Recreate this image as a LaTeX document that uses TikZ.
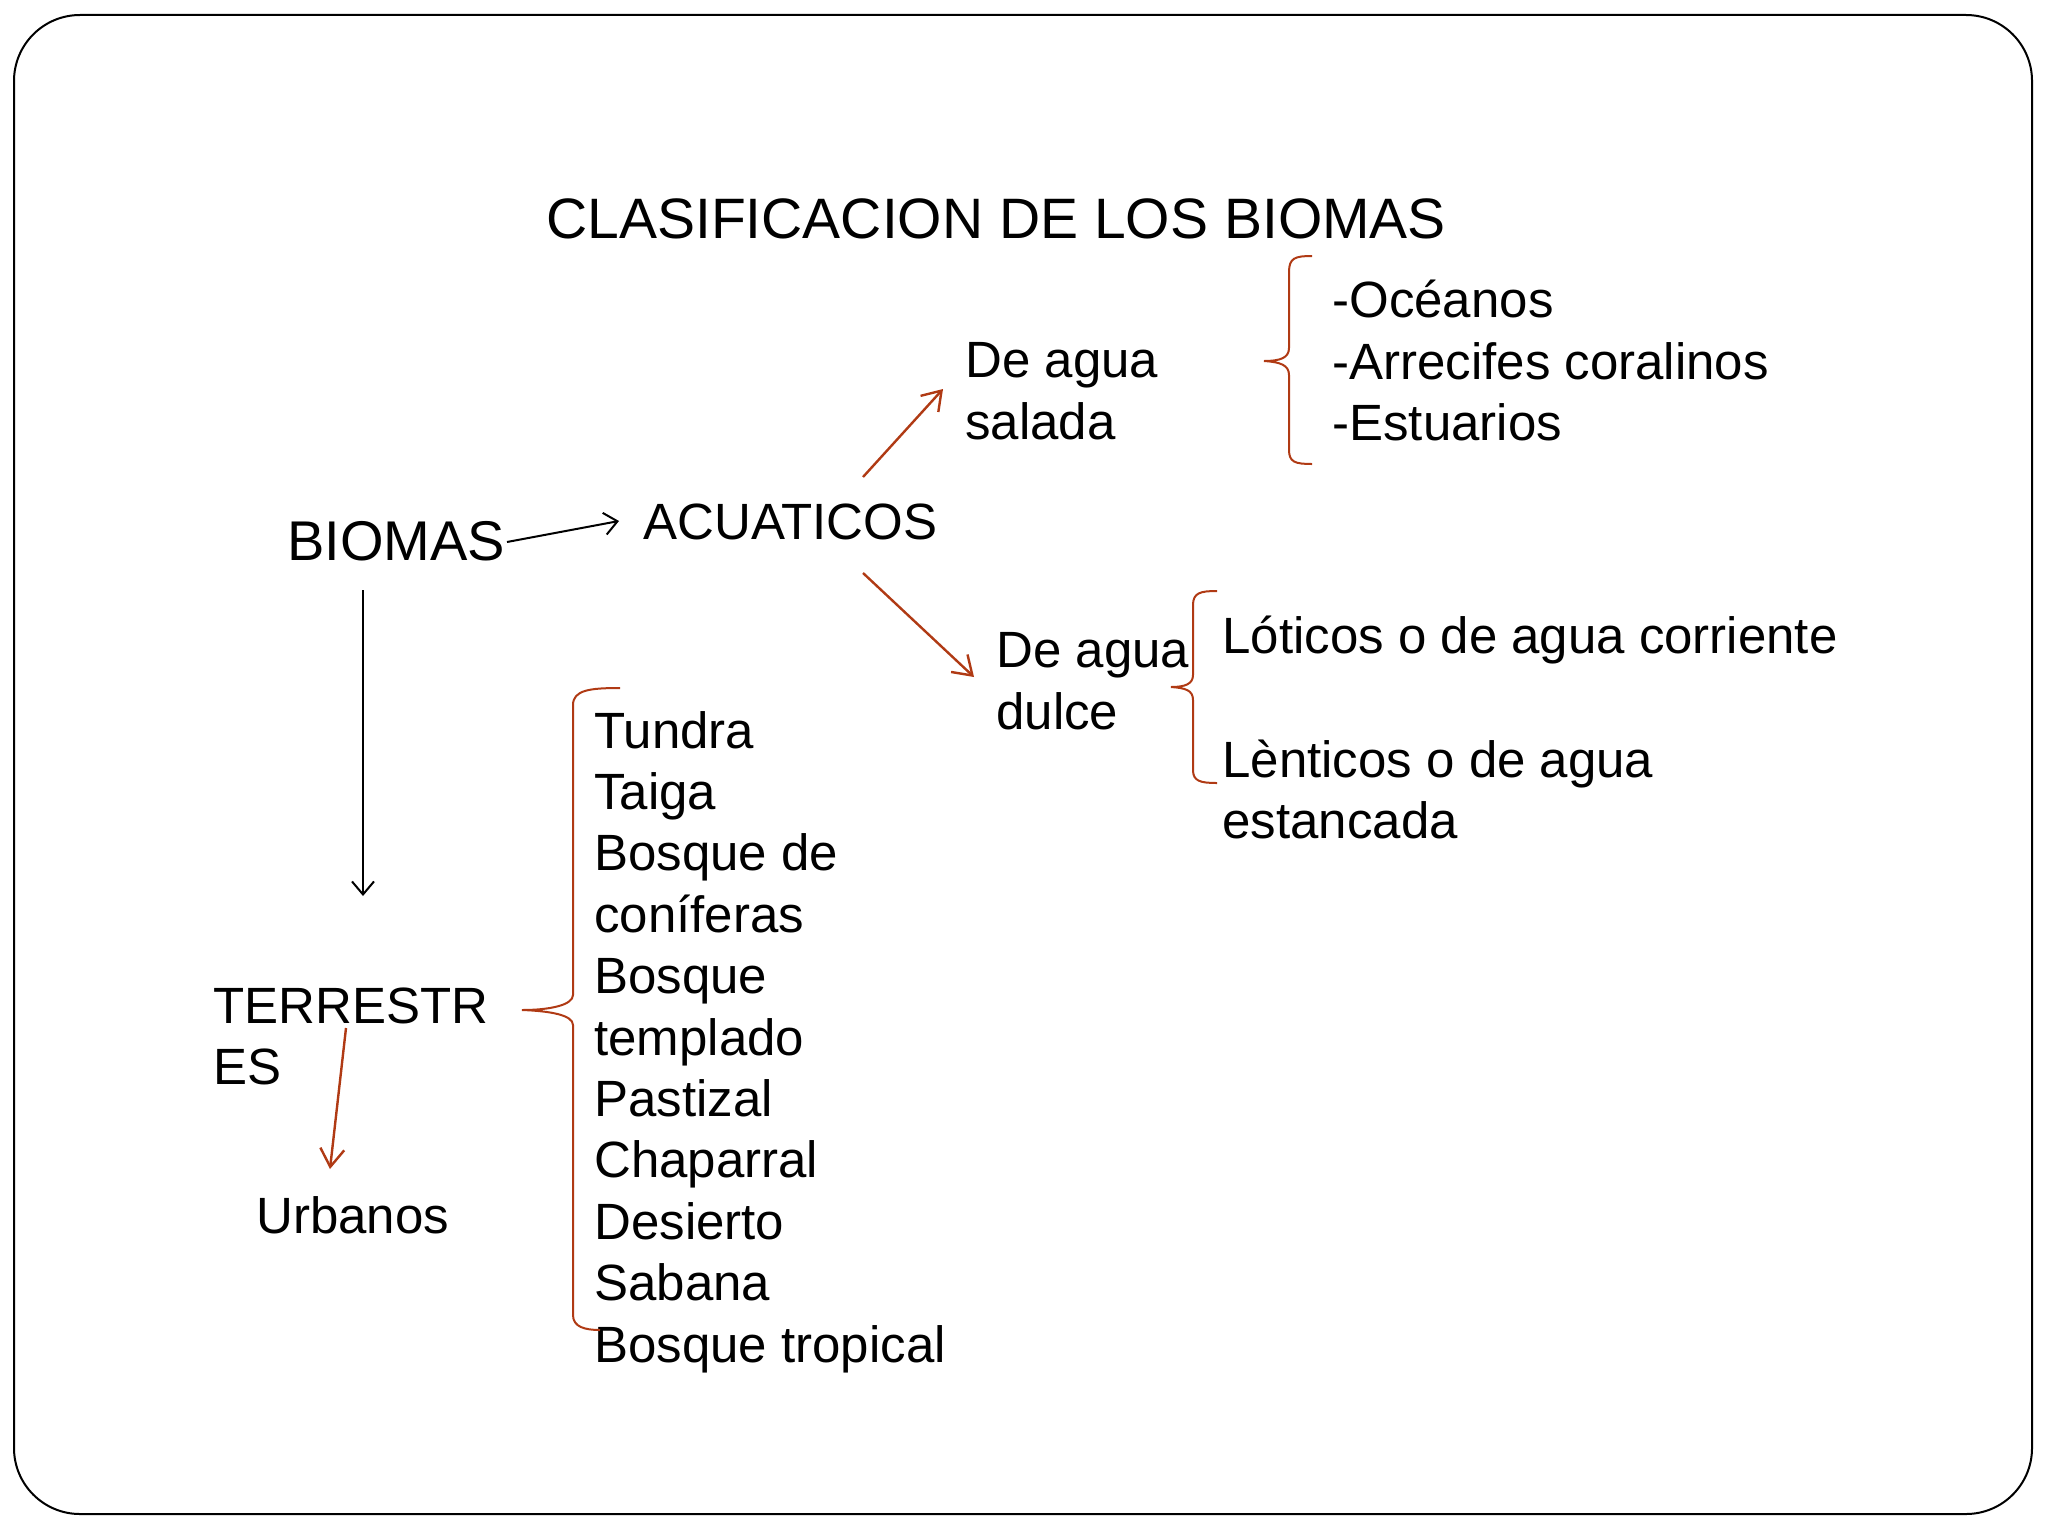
\documentclass[tikz,border=0pt]{standalone}
\usepackage{fontspec}
\setmainfont{Liberation Sans}
\usetikzlibrary{arrows.meta,calc}
\definecolor{rust}{RGB}{176,58,20}
\begin{document}
\begin{tikzpicture}[x=0.5pt,y=-0.5pt,
  txt/.style={anchor=base west, inner sep=0pt, font=\fontsize{25.5}{30.7}\selectfont},
  big/.style={anchor=base west, inner sep=0pt, font=\fontsize{28}{33}\selectfont},
  ttl/.style={anchor=base west, inner sep=0pt, font=\fontsize{28.5}{34}\selectfont},
  blkarrow/.style={line width=1pt, -{Straight Barb[length=6.5pt,width=11pt]}},
  rarrow/.style={draw=rust, line width=1.2pt, -{Straight Barb[length=9pt,width=12pt]}},
  bracepath/.style={draw=rust, line width=1pt}
]
\useasboundingbox (0,0) rectangle (2048,1536);
\draw[line width=1pt, rounded corners=33pt] (14,15) rectangle (2032,1514);

\node[ttl] (title) at (546,238) {CLASIFICACION DE LOS BIOMAS};
\node[big] (biomas) at (287,560) {BIOMAS};
\node[txt] (acu) at (643,539) {ACUATICOS};
\node[txt] (sal1) at (965,377) {De agua};
\node[txt] (sal2) at (965,439) {salada};
\node[txt] (oc1) at (1332,317) {-Océanos};
\node[txt] (oc2) at (1332,379) {-Arrecifes coralinos};
\node[txt] (oc3) at (1332,440) {-Estuarios};
\node[txt] (dul1) at (996,667) {De agua};
\node[txt] (dul2) at (996,729) {dulce};
\node[txt] (lot) at (1222,653) {Lóticos o de agua corriente};
\node[txt] (len1) at (1222,777) {Lènticos o de agua};
\node[txt] (len2) at (1222,838) {estancada};
\node[txt] (terr1) at (213,1023) {TERRESTR};
\node[txt] (terr2) at (213,1084) {ES};
\node[txt] (urb) at (256,1233) {Urbanos};
\foreach \t [count=\i from 0] in {Tundra,Taiga,Bosque de,coníferas,Bosque,templado,Pastizal,Chaparral,Desierto,Sabana,Bosque tropical}
  \node[txt] (l\i) at (594,{748+61.4*\i}) {\t};

% connectors
\draw[blkarrow] ($(biomas.base west)+(220,-18)$) -- ($(acu.base west)+(-24,-18)$);
\draw[blkarrow] ($(biomas.base west)+(76,30)$) -- ($(terr1.base west)+(150,-127)$);
\draw[rarrow] ($(acu.base west)+(220,-62)$) -- ($(sal1.base west)+(-22,12)$);
\draw[rarrow] ($(acu.base west)+(220,34)$) -- ($(dul1.base west)+(-22,10)$);
\draw[rarrow] ($(terr1.base west)+(133,5)$) -- ($(urb.base west)+(74,-64)$);

% braces
\draw[bracepath] (1312,256) .. controls (1295,256) and (1289,258) .. (1289,272) -- (1289,348)
  .. controls (1289,358) and (1280,361) .. (1264,361)
  .. controls (1280,362) and (1289,365) .. (1289,375) -- (1289,450)
  .. controls (1289,462) and (1295,464) .. (1312,464);
\draw[bracepath] (1217,591) .. controls (1200,591) and (1193,593) .. (1193,605) -- (1193,675)
  .. controls (1193,684) and (1185,687) .. (1171,687)
  .. controls (1185,688) and (1193,690) .. (1193,700) -- (1193,770)
  .. controls (1193,781) and (1200,783) .. (1217,783);
\draw[bracepath] (620,688) .. controls (590,688) and (573,690) .. (573,705) -- (573,995)
  .. controls (573,1005) and (550,1010) .. (522,1010)
  .. controls (550,1011) and (573,1015) .. (573,1025) -- (573,1315)
  .. controls (573,1327) and (585,1330) .. (600,1330);
\end{tikzpicture}
\end{document}
